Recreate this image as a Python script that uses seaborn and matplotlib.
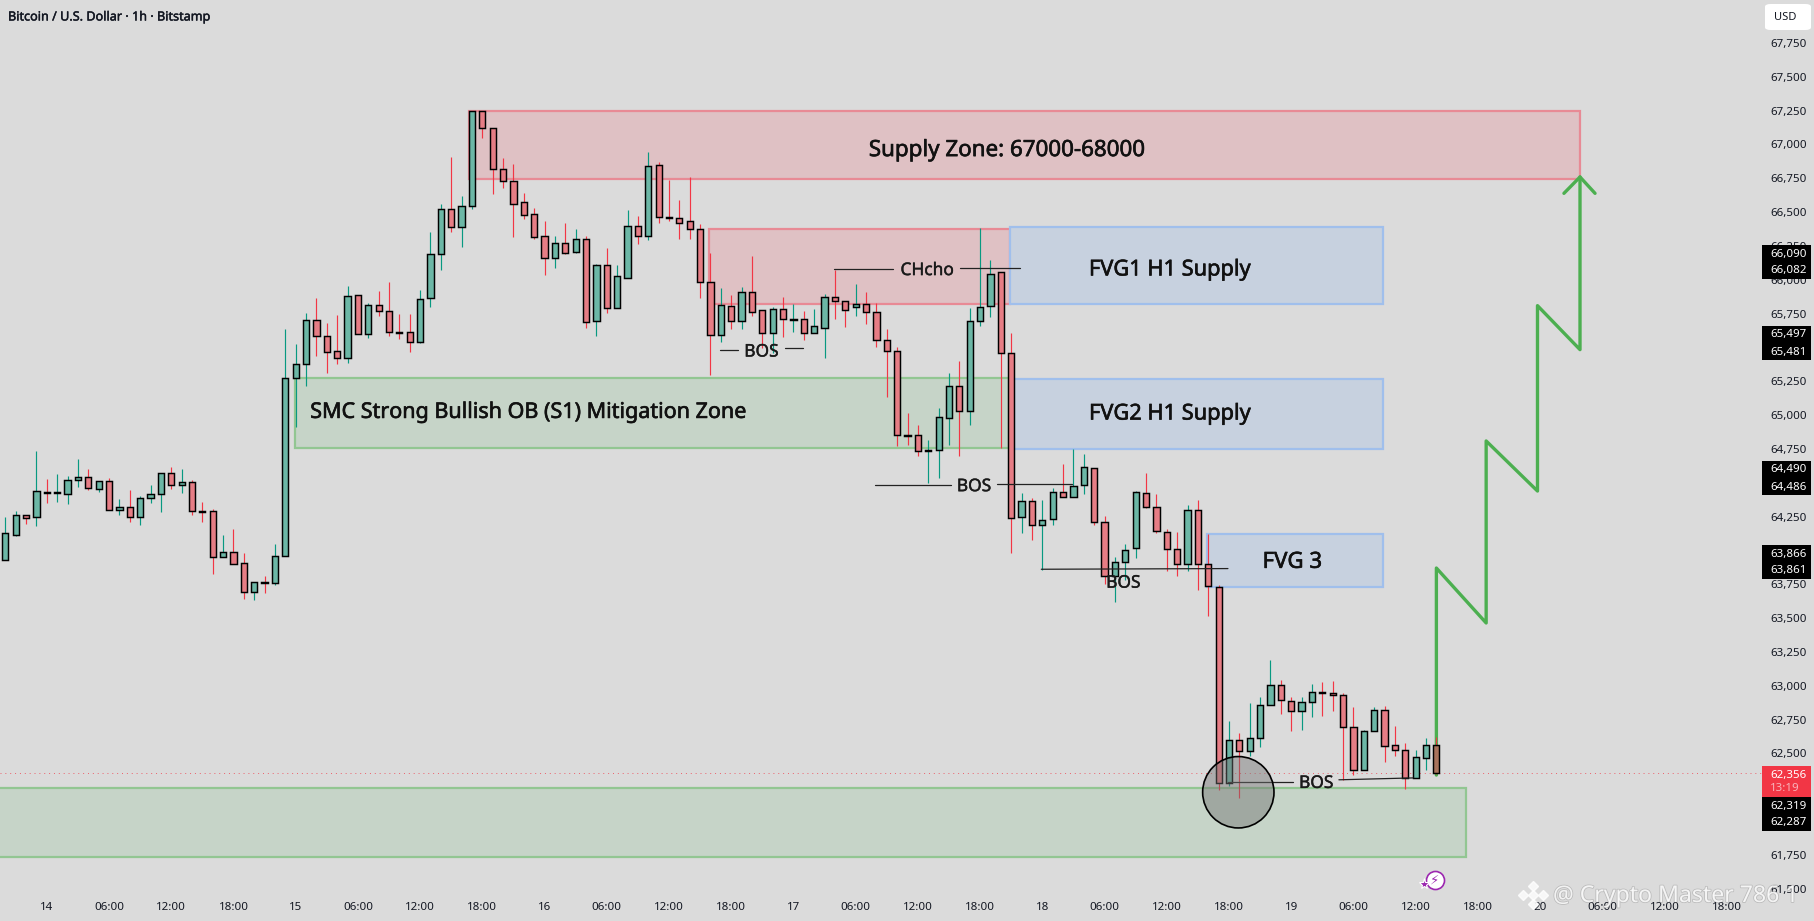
import numpy as np
import pandas as pd
import matplotlib
matplotlib.use('Agg')
import matplotlib.pyplot as plt
from matplotlib.patches import Rectangle, Ellipse, FancyBboxPatch
import matplotlib.patheffects as pe
import seaborn as sns

# hourly candles
opens = [63926,64117,64260,64245,64430,64428,64415,64520,64540,64451,
         64512,64296,64318,64245,64385,64415,64570,64481,64504,64290,
         64290,63949,63985,63906,63690,63764,63756,63957,65273,65375,
         65700,65583,65471,65420,65886,65596,65812,65767,65616,65611,
         65543,65868,66189,66520,66388,66543,67245,67120,66817,66728,
         66573,66484,66322,66159,66270,66204,66300,65694,66107,65790,
         66011,66396,66322,66846,66465,66455,66433,66373,65982,65590,
         65804,65694,65908,65775,65610,65782,65706,65708,65605,65642,
         65871,65841,65797,65819,65760,65553,65472,64854,64851,64738,
         64741,64977,65213,65029,65694,65805,66056,65462,64245,64368,
         64186,64230,64435,64393,64482,64607,64208,63809,63918,64016,
         64427,64324,64139,64009,63898,64302,63903,63732,62279,62597,
         62516,62612,62856,63003,62885,62811,62878,62952,62944,62929,
         62693,62375,62663,62819,62560,62523,62316,62464,62560]
closes = [64128,64260,64242,64438,64423,64433,64520,64540,64458,64512,
          64296,64318,64245,64385,64415,64570,64481,64504,64290,64283,
          63949,63985,63899,63690,63764,63759,63957,65273,65375,65700,
          65583,65464,65420,65879,65596,65812,65767,65611,65609,65543,
          65856,66189,66520,66388,66543,67245,67120,66818,66728,66558,
          66477,66319,66159,66270,66201,66300,65686,66107,65790,66026,
          66396,66322,66839,66462,66460,66418,66373,65982,65590,65812,
          65694,65908,65760,65605,65782,65708,65711,65605,65657,65871,
          65841,65775,65819,65760,65553,65472,64851,64849,64733,64743,
          64984,65213,65029,65694,65797,66041,65457,64238,64368,64186,
          64228,64435,64393,64479,64615,64208,63809,63918,64000,64435,
          64324,64142,64009,63898,64302,63898,63735,62279,62597,62516,
          62612,62856,63003,62893,62811,62878,62952,62949,62929,62693,
          62375,62663,62819,62553,62523,62316,62471,62560,62356]
highs = [64247,64293,64260,64736,64527,64565,64550,64677,64601,64512,
         64535,64380,64448,64402,64484,64570,64616,64601,64522,64359,
         64306,64115,64158,63983,63764,63812,64049,65637,65525,65754,
         65866,65680,65741,65955,65886,65830,65917,65983,65749,65749,
         65924,66354,66561,66907,66619,67245,67245,67120,66898,66856,
         66642,66531,66435,66324,66420,66376,66324,66115,66233,66110,
         66516,66472,66945,66869,66738,66590,66758,66413,66196,65940,
         65888,65947,66176,65777,65797,65873,65822,65770,65785,65896,
         66073,65844,65970,65910,65827,65637,65504,65016,64928,64817,
         65053,65309,65401,65790,66381,66147,66061,65605,64423,64386,
         64373,64460,64639,64750,64713,64607,64255,63950,64046,64440,
         64570,64418,64157,64137,64336,64373,64120,63742,62740,62649,
         62873,62915,63191,63043,62915,62915,63013,63026,63035,62944,
         62843,62671,62843,62848,62703,62575,62526,62612,62622]
lows = [63926,64107,64196,64181,64352,64359,64344,64469,64443,64433,
        64296,64262,64212,64189,64352,64285,64453,64425,64262,64212,
        63827,63949,63899,63641,63634,63685,63748,63957,64911,65217,
        65438,65311,65377,65385,65596,65571,65733,65586,65563,65466,
        65532,65800,66072,66354,66242,66522,67049,66634,66681,66319,
        66452,66304,66036,66090,66194,66201,65647,65588,65758,65790,
        66011,66268,66297,66423,66437,66304,66304,65869,65297,65543,
        65637,65640,65733,65494,65457,65578,65615,65556,65605,65425,
        65711,65652,65733,65674,65504,65137,64773,64780,64699,64499,
        64536,64780,64699,64928,65662,65726,64760,63984,64132,64078,
        63856,64189,64393,64393,64418,64189,63753,63622,63782,63947,
        64317,64132,63851,63814,63851,63711,63516,62230,62262,62173,
        62481,62548,62856,62792,62668,62676,62772,62779,62814,62304,
        62341,62375,62663,62437,62481,62240,62316,62378,62346]

price_ticks = list(range(61500, 68000, 250))
time_ticks = list(range(4, 170, 6))
day_labels = {4: '14', 28: '15', 52: '16', 76: '17', 100: '18', 124: '19', 148: '20'}
hour_cycle = ['00:00', '06:00', '12:00', '18:00']

last_price = 62356
# (bar start, bar end, price low, price high)
supply_zone = (44.7, 151.85, 66745, 67247)
inner_supply = (67.9, 96.9, 65821, 66375)
ob_zone = (27.9, 96.8, 64757, 65278)
demand_zone = (-3, 140.9, 61737, 62247)
fvg1 = (96.9, 132.85, 65821, 66393)
fvg2 = (96.9, 132.85, 64752, 65267)
fvg3 = (115.9, 132.85, 63732, 64121)

zig_x = [138, 138, 142.8, 142.8, 147.75, 147.75, 151.85, 151.85]
zig_y = [62340, 63870, 63464, 64809, 64439, 65809, 65484, 66760]
head_x = [150.3, 151.85, 153.3]
head_y = [66639, 66760, 66639]

# structure lines: x1, x2, y1, y2
struct_lines = [(79.94, 85.6, 66082, 66082), (92.1, 97.85, 66090, 66090),
                (68.9, 70.7, 65481, 65481), (75.15, 76.9, 65497, 65497),
                (83.86, 91.2, 64486, 64486), (95.6, 102.9, 64490, 64490),
                (99.9, 117.9, 63861, 63866),
                (117.9, 124.15, 62287, 62287), (128.6, 135.75, 62305, 62319)]

# scale boxes: text, y pixel centre
black_labels = [('66,090', 254), ('66,082', 271), ('65,497', 335), ('65,481', 352),
                ('64,490', 469), ('64,486', 487), ('63,866', 554), ('63,861', 570.5),
                ('62,319', 806), ('62,287', 823)]
black_boxes = [(245, 278.7), (326, 360), (461, 495), (545, 579), (797.3, 831)]

W, H = 1815, 921
BG = '#dbdbdb'
GREEN_BODY = '#6cb7a6'
RED_BODY = '#e67d85'
GREEN_WICK = '#089981'
RED_WICK = '#f23645'
INK = '#131722'

sns.set_theme(style='white', rc={'figure.facecolor': BG, 'axes.facecolor': BG})
plt.rcParams['font.family'] = ['Noto Sans', 'DejaVu Sans']

fig = plt.figure(figsize=(W / 100, H / 100), dpi=100)
ax = fig.add_axes([0, 1 - 895 / H, 1762 / W, 895 / H])


def px(x, y):
    return x / W, 1 - y / H


def zone(z, face, edge, zo=1):
    ax.add_patch(Rectangle((z[0], z[2]), z[1] - z[0], z[3] - z[2], facecolor=face,
                           edgecolor=edge, linewidth=1.6, zorder=zo))


df = pd.DataFrame({'idx': range(len(opens)), 'open': opens, 'high': highs, 'low': lows, 'close': closes})
df['bot'] = df[['open', 'close']].min(axis=1)
df['height'] = (df['close'] - df['open']).abs()
up = df[df['close'] >= df['open']]
down = df[df['close'] < df['open']]

zone(ob_zone, '#c6d4c8', '#92c692')
zone(demand_zone, '#c6d4c8', '#92c692')
zone(supply_zone, '#dfc1c4', '#e88a95')
zone(inner_supply, '#dfc1c4', '#e88a95')
zone(fvg1, '#c7d1df', '#a0bfec', zo=1.5)
zone(fvg2, '#c7d1df', '#a0bfec', zo=1.5)
zone(fvg3, '#c7d1df', '#a0bfec', zo=1.5)

# the trade path runs under the newest candle
sns.lineplot(x=zig_x, y=zig_y, sort=False, estimator=None, color='#4caf50', linewidth=2.4, ax=ax, zorder=1.8)
sns.lineplot(x=head_x, y=head_y, sort=False, estimator=None, color='#4caf50', linewidth=2.4, ax=ax, zorder=1.8)

ax.vlines(up['idx'], up['low'], up['high'], color=GREEN_WICK, linewidth=0.85, zorder=2)
ax.vlines(down['idx'], down['low'], down['high'], color=RED_WICK, linewidth=0.85, zorder=2)

for part, col in ((up, GREEN_BODY), (down.iloc[:-1], RED_BODY), (down.iloc[-1:], '#a8735c')):
    sns.barplot(data=part, x='idx', y='height', bottom=part['bot'].values, native_scale=True,
                width=0.6, color=col, saturation=1, edgecolor='black', linewidth=1.05,
                errorbar=None, ax=ax, zorder=3)

ax.axhline(last_price, color=RED_WICK, alpha=0.75, linewidth=0.7, linestyle=(0, (1, 4)), zorder=2)

for x1, x2, y1, y2 in struct_lines:
    ax.plot([x1, x2], [y1, y2], color='#222222', linewidth=0.9, zorder=4)

ax.add_patch(Ellipse((118.9, 62213), 6.88, 527.6, facecolor=(0.45, 0.45, 0.45, 0.45),
                     edgecolor='black', linewidth=1.2, zorder=6))

heavy = [pe.withStroke(linewidth=0.45, foreground='#111111')]
big = dict(color='#111111', va='center', zorder=7, path_effects=heavy)
ax.text(96.6, 66955, 'Supply Zone: 67000-68000', ha='center', fontsize=16.1, **big)
ax.text(29.4, 65020, 'SMC Strong Bullish OB (S1) Mitigation Zone', ha='left', fontsize=15.5, **big)
ax.text(112.3, 66073, 'FVG1 H1 Supply', ha='center', fontsize=15.7, **big)
ax.text(112.3, 65008, 'FVG2 H1 Supply', ha='center', fontsize=15.7, **big)
ax.text(124.1, 63912, 'FVG 3', ha='center', fontsize=16, **big)
small = dict(fontsize=12.5, color='#1a1a1a', va='center', ha='center', zorder=7,
             path_effects=[pe.withStroke(linewidth=0.3, foreground='#1a1a1a')])
ax.text(88.9, 66072, 'CHcho', **small)
ax.text(72.9, 65470, 'BOS', **small)
ax.text(93.4, 64475, 'BOS', **small)
ax.text(107.8, 63762, 'BOS', **small)
ax.text(126.4, 62282, 'BOS', **small)

# axes
ax.set_xlim(-0.514, 169.4)
ax.set_ylim(61453.7, 68067.8)
ax.set_xlabel('')
ax.set_ylabel('')
for s in ax.spines.values():
    s.set_visible(False)
ax.yaxis.tick_right()
ax.set_yticks(price_ticks)
ax.set_yticklabels([f'{v:,}' for v in price_ticks])
ax.set_xticks(time_ticks)
ax.set_xticklabels([day_labels.get(t, hour_cycle[((t - 4) // 6) % 4]) for t in time_ticks])
ax.tick_params(axis='y', length=0, pad=5.8, labelsize=8.3, labelcolor=INK)
ax.tick_params(axis='x', length=0, pad=5, labelsize=8.3, labelcolor=INK)

# price scale flags
for top, bottom in black_boxes:
    x0, y1 = px(1762, bottom)
    x1, y0 = px(1811, top)
    fig.add_artist(Rectangle((x0, y1), x1 - x0, y0 - y1, transform=fig.transFigure,
                             facecolor='black', edgecolor='none', zorder=10))
for txt, yy in black_labels:
    fig.text(*px(1770, yy), txt, color='white', fontsize=8.3, fontweight='bold', va='center', ha='left', zorder=11)
x0, y1 = px(1762, 797)
x1, y0 = px(1811, 766)
fig.add_artist(Rectangle((x0, y1), x1 - x0, y0 - y1, transform=fig.transFigure,
                         facecolor=RED_WICK, edgecolor='none', zorder=10))
fig.text(*px(1770, 775), f'{last_price:,}', color='white', fontsize=8.3, fontweight='bold', va='center', zorder=11)
fig.text(*px(1770, 788.5), '13:19', color='#f7b3ba', fontsize=8.3, fontweight='bold', va='center', zorder=11)

x0, y0 = px(1765, 30)
x1, y1 = px(1811, 4)
fig.add_artist(FancyBboxPatch((x0, y0), x1 - x0, y1 - y0, boxstyle='round,pad=0,rounding_size=0.003',
                              transform=fig.transFigure, facecolor='white', edgecolor='none', zorder=10))
fig.text(*px(1785, 17), 'USD', color=INK, fontsize=8, va='center', ha='center', zorder=11)

fig.text(*px(8, 17), 'Bitcoin / U.S. Dollar · 1h · Bitstamp', color=INK, fontsize=9.1,
         va='center', ha='left', zorder=11,
         path_effects=[pe.withStroke(linewidth=0.3, foreground=INK)])

# watermark and logo bits
shadow = [pe.withStroke(linewidth=1.2, foreground=(0.45, 0.45, 0.45, 0.3))]
fig.text(*px(1553, 896), '@ Crypto Master 786 1', color=(1, 1, 1, 0.75), fontsize=16.6, va='center',
         ha='left', zorder=12, path_effects=shadow)
logo_x = [1533, 1523, 1543, 1533, 1533]
logo_y = [886, 895, 895, 904, 895]
lx, ly = zip(*[px(a, b) for a, b in zip(logo_x, logo_y)])
fig.add_artist(plt.Line2D(lx, ly, transform=fig.transFigure, linestyle='none', marker='D', markersize=5,
                          color='white', alpha=0.8, zorder=12))
ix, iy = px(1435, 880)
fig.add_artist(plt.Line2D([ix], [iy], transform=fig.transFigure, linestyle='none', marker='o', markersize=13,
                          markerfacecolor='white', markeredgecolor='#9c27b0', markeredgewidth=1.2, zorder=12))
fig.text(ix, iy, '⚡', color='#9c27b0', fontsize=9.5, ha='center', va='center', family=['DejaVu Sans'], zorder=13)
sx, sy = px(1424, 884)
fig.add_artist(plt.Line2D([sx], [sy], transform=fig.transFigure, linestyle='none', marker='*', markersize=8,
                          markerfacecolor='#9c27b0', markeredgecolor='white', markeredgewidth=0.8, zorder=13))

fig.savefig('out.png', dpi=100, facecolor=BG)
